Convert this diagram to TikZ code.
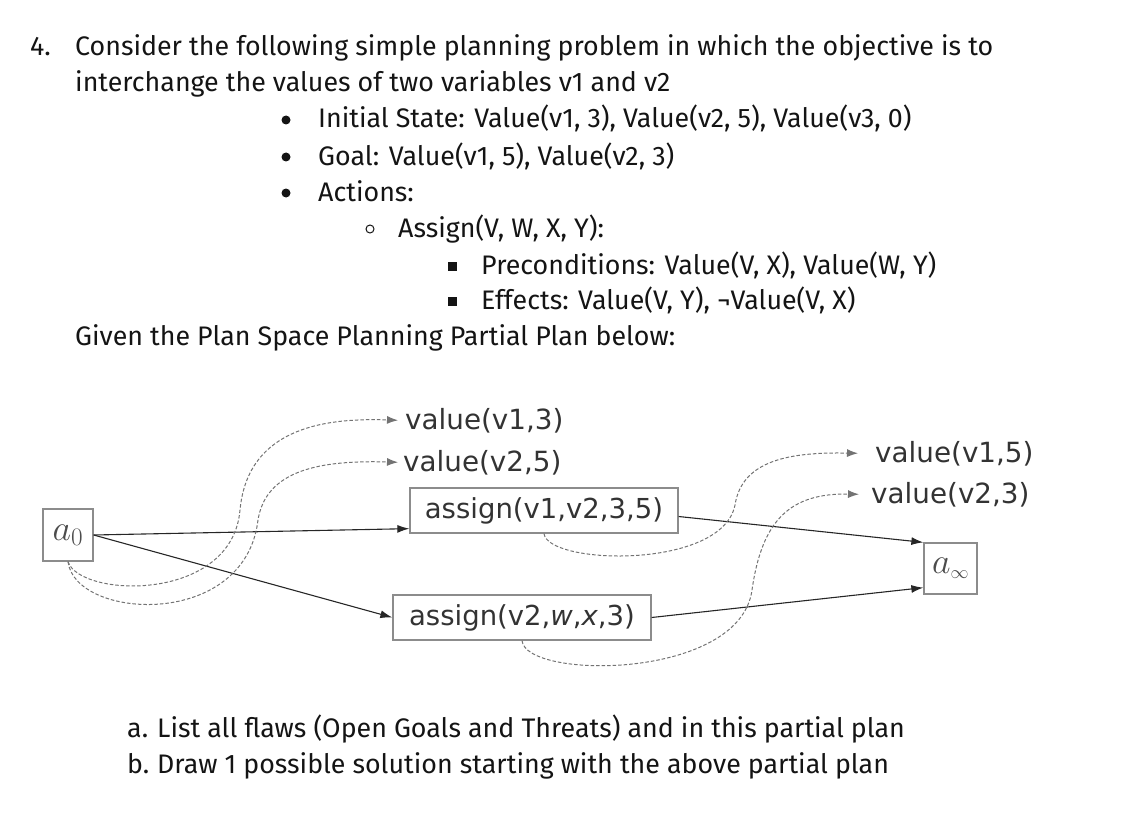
\RequirePackage{fix-cm}
\documentclass[tikz,border=0pt]{standalone}
\usepackage{fontspec}
\setmainfont{Fira Sans}
\newfontfamily\diagfont{DejaVu Sans}
\usetikzlibrary{arrows.meta}

\begin{document}
\begin{tikzpicture}[x=1pt,y=-1pt,
  txt/.style={anchor=base west, inner sep=0pt, font=\fontsize{26.8}{32}\selectfont, text=black!92},
  lit/.style={anchor=base west, inner sep=0pt, font=\diagfont\fontsize{27.8}{33}\selectfont, text=black!80},
  actbox/.style={draw=black!45, line width=1.3pt, minimum height=45pt, inner sep=0pt,
    font=\diagfont\fontsize{27.5}{33}\selectfont, text=black!80},
  endbox/.style={draw=black!45, line width=1.3pt, minimum width=50pt, minimum height=52pt,
    inner sep=0pt, font=\fontsize{36}{42}\selectfont, text=black!70},
  order/.style={draw=black!85, line width=1.1pt, -{Latex[length=12pt,width=8pt]}},
  causal/.style={draw=black!55, line width=1pt, dash pattern=on 3.5pt off 2pt,
    -{Latex[length=11pt,width=8pt]}}
  ]
  \useasboundingbox (0,0) rectangle (1122,832);

  % problem statement
  \node[txt] (num) at (30,56) {4.};
  \node[txt] (line1) at (75,56) {Consider the following simple planning problem in which the objective is to};
  \node[txt] (line2) at (75,92) {interchange the values of two variables v1 and v2};
  \foreach \y in {120,157,193} \fill[black!92] (286,\y) circle (4.5pt);
  \node[txt] (init) at (318,128) {Initial State: Value(v1, 3), Value(v2, 5), Value(v3, 0)};
  \node[txt] (goal) at (318,165) {Goal: Value(v1, 5), Value(v2, 3)};
  \node[txt] (acts) at (318,201) {Actions:};
  \draw[black!92, line width=1pt] (370,229) circle (4pt);
  \node[txt] (assign) at (398,237) {Assign(V, W, X, Y):};
  \foreach \y in {266,301} \fill[black!92] (447.5,\y-4.5) rectangle +(9,9);
  \node[txt] (precond) at (481,274) {Preconditions: Value(V, X), Value(W, Y)};
  \node[txt] (effects) at (481,309) {Effects: Value(V, Y), ¬Value(V, X)};
  \node[txt] (given) at (75,345) {Given the Plan Space Planning Partial Plan below:};

  % partial plan
  \node[endbox] (a0) at (68,535) {$a_0$};
  \node[endbox, minimum width=53pt, minimum height=51pt] (ainf) at (950.5,568.5) {$a_{\scriptscriptstyle\infty}$};
  \node[actbox, minimum width=268pt] (asg1) at (544,510.5) {assign(v1,v2,3,5)};
  \node[actbox, minimum width=258pt] (asg2) at (522,617.5) {assign(v2,\textit{w},\textit{x},3)};
  \node[lit] (v13) at (405,429) {value(v1,3)};
  \node[lit] (v25) at (403,471) {value(v2,5)};
  \node[lit] (v15) at (875,462) {value(v1,5)};
  \node[lit] (v23) at (871,503) {value(v2,3)};

  \draw[order] (a0.east) -- ([yshift=5pt]asg1.south west);
  \draw[order] (a0.east) -- (asg2.west);
  \draw[order] ([yshift=-6pt]asg1.east) -- (ainf.north west);
  \draw[order] (asg2.east) -- ([yshift=7pt]ainf.south west);

  \draw[causal] (a0.south) .. controls (80,598) and (232,603) .. (240,510)
    .. controls (248,425) and (330,418) .. ([xshift=-7pt]v13.west);
  \draw[causal] (a0.south) .. controls (75,620) and (245,630) .. (258,520)
    .. controls (266,470) and (320,460) .. ([xshift=-5pt]v25.west);
  \draw[causal] (asg1.south) .. controls (548,565) and (722,570) .. (735,505)
    .. controls (742,460) and (790,452) .. ([xshift=-17pt]v15.west);
  \draw[causal] (asg2.south) .. controls (526,680) and (740,680) .. (752,590)
    .. controls (762,520) and (790,493) .. ([xshift=-12pt]v23.west);

  % questions
  \node[txt] (qa) at (127,737) {a.};
  \node[txt] (qatext) at (157,737) {List all flaws (Open Goals and Threats) and in this partial plan};
  \node[txt] (qb) at (127,773) {b.};
  \node[txt] (qbtext) at (157,773) {Draw 1 possible solution starting with the above partial plan};
\end{tikzpicture}
\end{document}
